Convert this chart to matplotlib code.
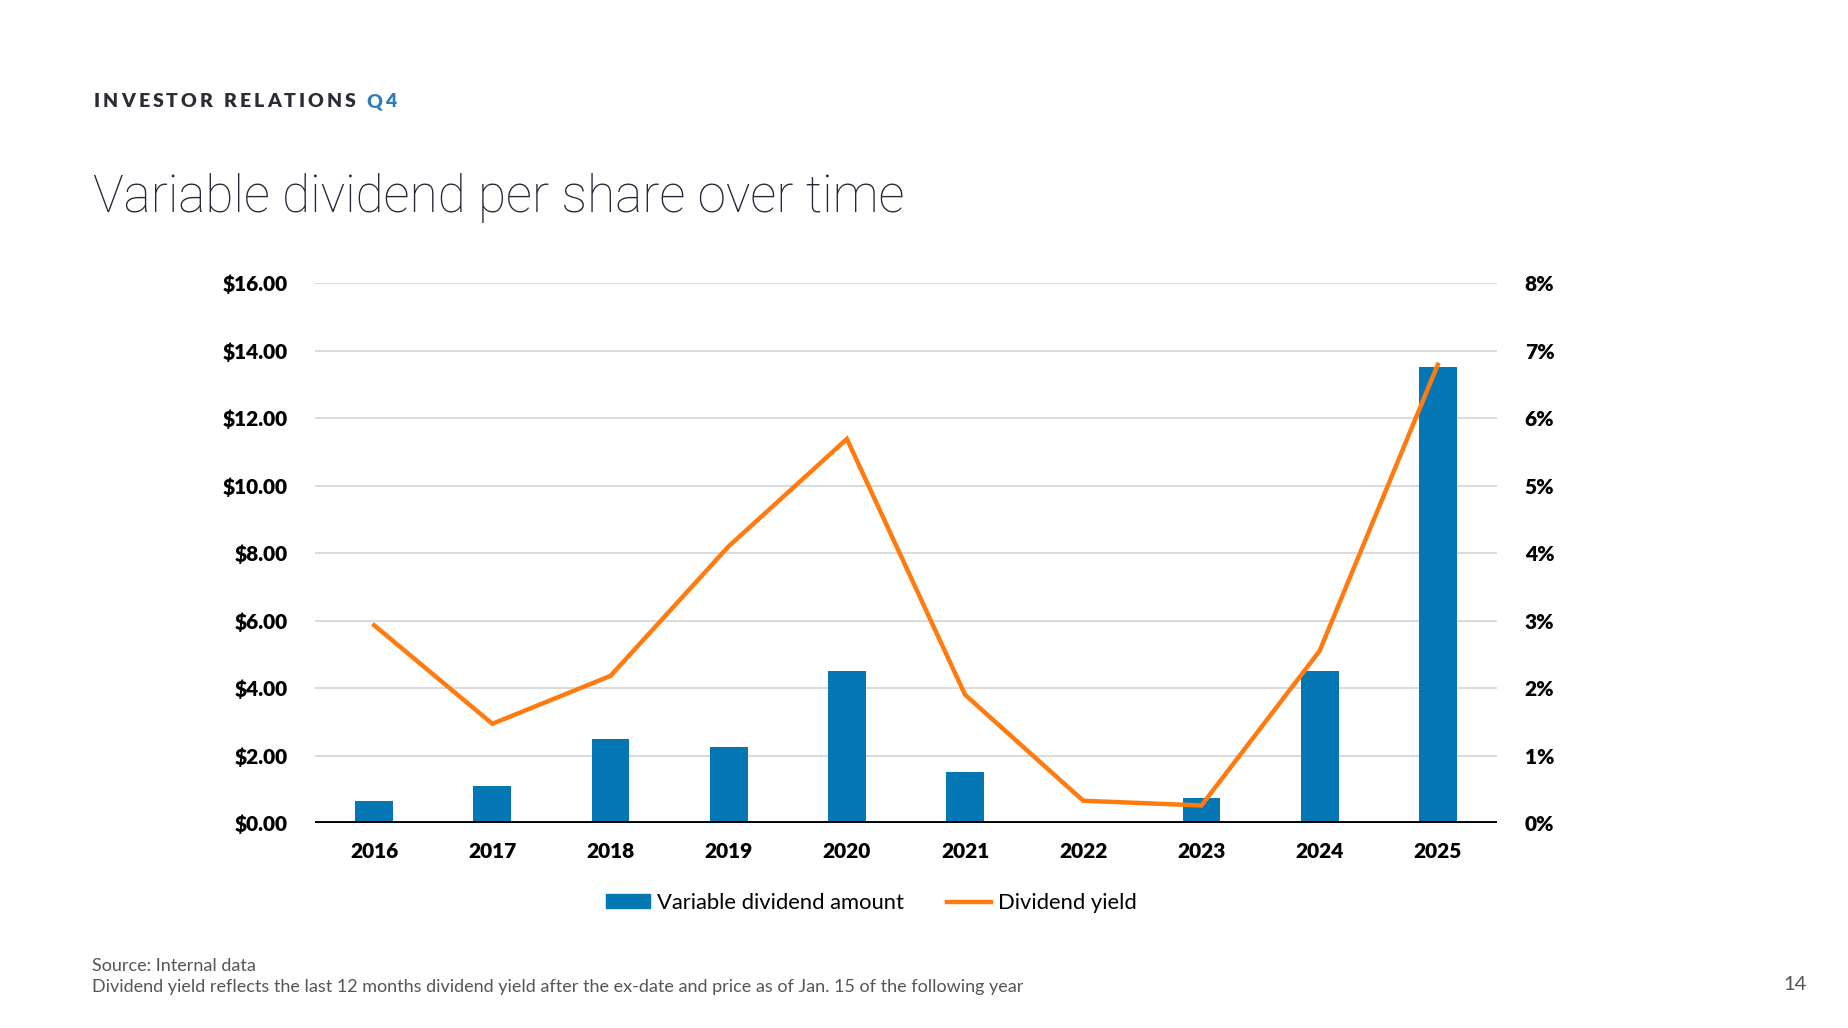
import matplotlib
matplotlib.use("Agg")
import matplotlib.pyplot as plt
import numpy as np
from matplotlib.lines import Line2D
from matplotlib.patches import Patch

years = ["2016", "2017", "2018", "2019", "2020", "2021", "2022", "2023", "2024", "2025"]
dividend = [0.65, 1.10, 2.50, 2.25, 4.50, 1.50, 0.0, 0.75, 4.50, 13.50]
yield_pct = [2.93, 1.47, 2.18, 4.10, 5.69, 1.90, 0.33, 0.26, 2.55, 6.79]

left_ticks = [0, 2, 4, 6, 8, 10, 12, 14, 16]
right_ticks = [0, 1, 2, 3, 4, 5, 6, 7, 8]

BLUE = "#0477b4"
ORANGE = "#ff7b0f"
DARK = "#232838"

plt.rcParams["font.family"] = ["Lato", "DejaVu Sans"]

fig = plt.figure(figsize=(18.48, 10.28), dpi=100)
ax = fig.add_axes([0.1705, 0.1994, 0.6395, 0.5253])
ax2 = ax.twinx()

x = np.arange(len(years))
ax.bar(x, dividend, width=0.32, color=BLUE, zorder=3)
ax2.plot(x, yield_pct, color=ORANGE, lw=3.2, zorder=4, solid_joinstyle="miter")

ax.set_xlim(-0.5, len(years) - 0.5)
ax.set_ylim(0, 16)
ax2.set_ylim(0, 8)
ax.set_yticks(left_ticks)
ax.set_yticklabels([f"${v:.2f}" for v in left_ticks])
ax2.set_yticks(right_ticks)
ax2.set_yticklabels([f"{v}%" for v in right_ticks])
ax.set_xticks(x)
ax.set_xticklabels(years)

ax.grid(axis="y", color="#d4d4d4", lw=1.2, zorder=0)
ax.set_axisbelow(True)
for a in (ax, ax2):
    for s in ("top", "right", "left", "bottom"):
        a.spines[s].set_visible(False)
ax2.axhline(0, color="black", lw=2.8, zorder=6)

ax.tick_params(axis="y", length=0, pad=20, labelsize=15, labelcolor="black")
ax2.tick_params(axis="y", length=0, pad=20, labelsize=15, labelcolor="black")
ax.tick_params(axis="x", length=0, pad=14, labelsize=15)
for lab in ax.get_yticklabels() + ax2.get_yticklabels() + ax.get_xticklabels():
    lab.set_fontweight("heavy")
ax2.patch.set_visible(False)

handles = [Patch(color=BLUE), Line2D([0], [0], color=ORANGE, lw=3.2)]
fig.legend(handles, ["Variable dividend amount", "Dividend yield"], loc="center",
           bbox_to_anchor=(0.4715, 0.1215), ncol=2, frameon=False, fontsize=15.8,
           handlelength=2.0, handleheight=0.6, columnspacing=2.0, handletextpad=0.3)

# letter-spaced header
fig.canvas.draw()
renderer = fig.canvas.get_renderer()
xpos = 94
header = [("INVESTOR RELATIONS ", "#2b2d35"), ("Q4", "#2f7dbf")]
for part, col in header:
    for ch in part:
        t = fig.text(xpos / 1848, 1 - 107 / 1028, ch, fontsize=14, fontweight="heavy",
                     color=col, ha="left", va="baseline")
        w = t.get_window_extent(renderer).width
        if ch == " ":
            w = 5
        xpos += w + 3.0

fig.text(93 / 1848, 1 - 212 / 1028, "Variable dividend per share over time", fontsize=37,
         fontweight="light", color=DARK, ha="left", va="baseline",
         family=["Roboto", "Lato", "DejaVu Sans"])

fig.text(92 / 1848, 1 - 971 / 1028, "Source: Internal data", fontsize=13,
         color="#555555", ha="left", va="baseline")
fig.text(92 / 1848, 1 - 992 / 1028,
         "Dividend yield reflects the last 12 months dividend yield after the ex-date and price as of Jan. 15 of the following year",
         fontsize=13, color="#555555", ha="left", va="baseline")
fig.text(1807 / 1848, 1 - 990 / 1028, "14", fontsize=14.5,
         color="#555555", ha="right", va="baseline")

fig.savefig("out.png", dpi=100, facecolor="white")
